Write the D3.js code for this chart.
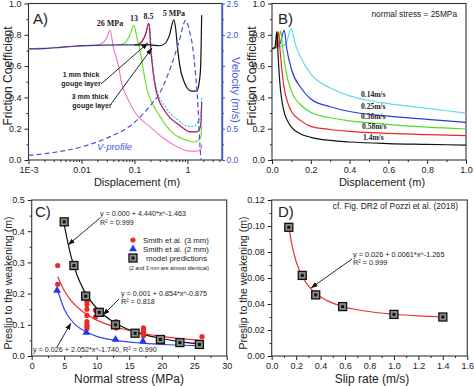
<!DOCTYPE html>
<html>
<head>
<meta charset="utf-8">
<script src="https://cdn.jsdelivr.net/npm/d3@7"></script>
<style>
body { margin: 0; background: #fff; }
text { font-family: Arial, "Liberation Sans", sans-serif; fill: #222; }
.serif { font-family: "Times New Roman", "Liberation Serif", serif; font-weight: bold; }
</style>
</head>
<body>
<svg id="fig" width="474" height="386"></svg>
<script>
// ---- panel A: friction vs displacement (log x), velocity profile on right axis
const baseA = [[0.001,0.71],[0.002,0.712],[0.004,0.72],[0.007,0.727],[0.012,0.731],[0.025,0.734],[0.05,0.735],[0.1,0.735]];
const curve26 = [[0.001,0.71],[0.004,0.72],[0.01,0.729],[0.018,0.733],[0.024,0.745],[0.03,0.78],[0.0345,0.83],[0.04,0.72],[0.05,0.6],[0.0575,0.49],[0.075,0.39],[0.1,0.31],[0.2,0.21],[0.35,0.14],[0.6,0.09],[1.0,0.058],[1.4,0.055],[1.7,0.062],[1.84,0.075],[1.86,0.1]];
const curve13 = [[0.05,0.735],[0.065,0.745],[0.08,0.79],[0.098,0.86],[0.11,0.79],[0.127,0.70],[0.15,0.56],[0.17,0.46],[0.22,0.36],[0.3,0.28],[0.5,0.18],[0.75,0.14],[1.0,0.125],[1.3,0.115],[1.6,0.125],[1.8,0.15],[1.86,0.22]];
const curve85 = [[0.1,0.735],[0.12,0.74],[0.14,0.76],[0.165,0.81],[0.185,0.873],[0.195,0.82],[0.2,0.745],[0.219,0.6],[0.262,0.43],[0.4,0.30],[0.72,0.22],[1.13,0.18],[1.49,0.18],[1.7,0.2],[1.8,0.235],[1.86,0.37]];
const curve85b = [[0.1,0.735],[0.13,0.75],[0.16,0.8],[0.19,0.87],[0.2,0.8],[0.215,0.65],[0.26,0.46],[0.4,0.33],[0.7,0.25],[1.0,0.215],[1.3,0.215],[1.6,0.25],[1.8,0.3],[1.86,0.4]];
const curve5 = [[0.1,0.735],[0.2,0.735],[0.3,0.73],[0.38,0.745],[0.45,0.79],[0.556,0.895],[0.6,0.84],[0.65,0.72],[0.72,0.6],[0.89,0.49],[1.05,0.45],[1.21,0.44],[1.49,0.44],[1.66,0.49],[1.78,0.6],[1.82,0.745],[1.86,0.925]];
const vProfile = [[0.001,0.075],[0.003,0.12],[0.01,0.21],[0.03,0.35],[0.1,0.6],[0.2,0.87],[0.3,1.07],[0.54,1.6],[0.7,1.9],[0.93,2.23],[1.1,2.05],[1.28,1.76],[1.45,1.3],[1.56,0.96],[1.7,0.32],[1.8,0.0]];
const xTicksA = [0.001, 0.01, 0.1, 1];
const xLabelsA = ['1E-3', '0.01', '0.1', '1'];
const vTicksA = [0, 0.5, 1.0, 1.5, 2.0, 2.5];
const vLabelsA = ['0.0', '0.5', '', '', '2.0', '2.5'];
const peakLabelsA = [['26 MPa',0.0345,0.83],['13',0.098,0.86],['8.5',0.185,0.873],['5 MPa',0.556,0.895]];

// ---- panel B: normal stress = 25 MPa, different slip rates
const rateLabelsB = ['0.14m/s','0.25m/s','0.36m/s','0.58m/s','1.4m/s'];
const rateColorsB = ['#5fdce8','#2a3be0','#4fe024','#ee2424','#111111'];
const curve014 = [[0,0.71],[0.03,0.72],[0.07,0.74],[0.1,0.84],[0.12,0.74],[0.15,0.65],[0.2,0.55],[0.3,0.46],[0.4,0.41],[0.5,0.38],[0.6,0.36],[0.8,0.33],[1.0,0.30]];
const curve025 = [[0,0.71],[0.04,0.74],[0.063,0.83],[0.075,0.72],[0.1,0.58],[0.15,0.46],[0.2,0.39],[0.3,0.34],[0.4,0.31],[0.6,0.28],[0.8,0.26],[1.0,0.24]];
const curve036 = [[0,0.71],[0.03,0.73],[0.045,0.825],[0.055,0.72],[0.07,0.58],[0.1,0.44],[0.15,0.35],[0.2,0.305],[0.3,0.27],[0.4,0.25],[0.6,0.228],[0.8,0.21],[1.0,0.198]];
const curve058 = [[0,0.71],[0.02,0.72],[0.032,0.82],[0.04,0.72],[0.06,0.48],[0.08,0.37],[0.1,0.31],[0.15,0.25],[0.2,0.215],[0.3,0.195],[0.4,0.183],[0.6,0.17],[0.8,0.162],[1.0,0.156]];
const curve14 = [[0,0.71],[0.015,0.72],[0.025,0.82],[0.03,0.7],[0.04,0.5],[0.06,0.32],[0.08,0.25],[0.1,0.21],[0.15,0.165],[0.2,0.145],[0.3,0.125],[0.4,0.115],[0.6,0.105],[0.8,0.1],[1.0,0.095]];
const labelYB = [0.40, 0.325, 0.265, 0.2, 0.13];

// ---- panel C: preslip vs normal stress
const smith3x = [4,4,8.5,8.5,8.5,8.5,8.5,8.5,8.5,8.5,8.5,9.8,9.8,13,13,13,16,16,17.2,17.2,17.2,17.2,17.2,17.2,26.2];
const smith3y = [0.29,0.23,0.185,0.175,0.165,0.15,0.13,0.11,0.10,0.095,0.088,0.147,0.125,0.11,0.095,0.09,0.073,0.068,0.09,0.085,0.08,0.075,0.07,0.065,0.062];
const smith2x = [3.9,8.4,12.9,17.1,25.8];
const smith2y = [0.21,0.075,0.053,0.047,0.03];
const modelCx = [5,6.5,8.3,10.4,12.9,15.9,19.8,22.8,25.8];
const modelCy = [0.43,0.29,0.192,0.14,0.10,0.073,0.053,0.043,0.037];
const fitBlackC = [[5,0.421],[6,0.323],[7,0.258],[8,0.212],[10,0.153],[12,0.117],[14,0.093],[17,0.070],[20,0.056],[23,0.045],[26,0.038]];
const fitRedC = [[4,0.255],[5,0.210],[6,0.179],[8,0.140],[10,0.115],[13,0.092],[16,0.077],[20,0.063],[26,0.050]];
const fitBlueC = [[4,0.210],[5,0.151],[6,0.117],[7,0.095],[8.5,0.076],[10,0.063],[13,0.050],[17,0.041],[21,0.036],[26,0.033]];

// ---- panel D: preslip vs slip rate
const rateD = [0.14,0.25,0.36,0.58,1.0,1.4];
const preslipD = [0.099,0.062,0.047,0.038,0.032,0.030];
const fitD = [[0.14,0.0994],[0.17,0.0833],[0.2,0.0727],[0.25,0.0612],[0.3,0.054],[0.36,0.0482],[0.45,0.0428],[0.58,0.0381],[0.75,0.0348],[1.0,0.0321],[1.2,0.0308],[1.4,0.030]];

const svg = d3.select('#fig');

const defs = svg.append('defs');
defs.append('marker').attr('id', 'arrow')
  .attr('viewBox', '0 0 8 6').attr('refX', 8).attr('refY', 3)
  .attr('markerWidth', 7).attr('markerHeight', 5).attr('markerUnits', 'userSpaceOnUse')
  .attr('orient', 'auto')
  .append('path').attr('d', 'M0,0 L8,3 L0,6 z').attr('fill', '#111');

function drawAxes(x, y, o) {
  const [x0, x1] = x.range();
  const [y0, y1] = y.range();
  const g = svg.append('g');
  g.append('g').attr('transform', `translate(0,${y0})`)
    .call(d3.axisBottom(x).tickValues(o.xMinor).tickSize(2).tickFormat('').tickSizeOuter(0));
  g.append('g').attr('transform', `translate(0,${y0})`)
    .call(d3.axisBottom(x).tickValues(o.xTicks).tickSize(4).tickFormat(o.xFmt).tickSizeOuter(0));
  g.append('g').attr('transform', `translate(${x0},0)`)
    .call(d3.axisLeft(y).tickValues(o.yMinor).tickSize(2).tickFormat('').tickSizeOuter(0));
  g.append('g').attr('transform', `translate(${x0},0)`)
    .call(d3.axisLeft(y).tickValues(o.yTicks).tickSize(4).tickFormat(o.yFmt).tickSizeOuter(0));
  g.selectAll('.domain').remove();
  g.selectAll('line').attr('stroke', '#222');
  g.selectAll('text').attr('font-size', 9).style('fill', '#222');
  g.append('rect').attr('x', x0).attr('y', y1).attr('width', x1 - x0).attr('height', y0 - y1)
    .attr('fill', 'none').attr('stroke', '#333').attr('stroke-width', 1.1);
  return g;
}

function lineOf(x, y) {
  return d3.line().x(d => x(d[0])).y(d => y(d[1])).curve(d3.curveMonotoneX);
}

function drawCurve(x, y, data, color, dash, w) {
  svg.append('path').datum(data).attr('d', lineOf(x, y))
    .attr('fill', 'none').attr('stroke', color).attr('stroke-width', w || 1.2)
    .attr('stroke-dasharray', dash || null);
}

function label(txt, x, y, size, opt) {
  opt = opt || {};
  const t = svg.append('text').attr('x', x).attr('y', y).attr('font-size', size)
    .attr('text-anchor', opt.anchor || 'start').text(txt);
  if (opt.cls) t.attr('class', opt.cls);
  if (opt.color) t.style('fill', opt.color);
  if (opt.weight) t.attr('font-weight', opt.weight);
  if (opt.italic) t.attr('font-style', 'italic');
  if (opt.rotate) t.attr('transform', `rotate(${opt.rotate},${x},${y})`);
  return t;
}

function arrow(x1, y1, x2, y2) {
  svg.append('line').attr('x1', x1).attr('y1', y1).attr('x2', x2).attr('y2', y2)
    .attr('stroke', '#111').attr('stroke-width', 0.9).attr('marker-end', 'url(#arrow)');
}

function minorLog(lo, hi) {
  const out = [];
  for (let p = lo; p < hi; p++) for (let k = 2; k <= 9; k++) out.push(k * Math.pow(10, p));
  return out;
}

// ================= A =================
const xA = d3.scaleLog().domain([0.001, 4.5]).range([28.5, 222]);
const yA = d3.scaleLinear().domain([0, 1]).range([160, 3.5]);
const vA = d3.scaleLinear().domain([0, 2.5]).range([160, 3.5]);

drawAxes(xA, yA, {
  xTicks: xTicksA, xMinor: minorLog(-3, 1).filter(v => v < 4.5), xFmt: (d, i) => xLabelsA[i],
  yTicks: d3.range(0, 1.01, 0.2), yMinor: d3.range(0.1, 1, 0.2), yFmt: d3.format('.1f')
});
const blue = '#4656dc';
const rightAx = svg.append('g').attr('transform', 'translate(222,0)')
  .call(d3.axisRight(vA).tickValues(vTicksA).tickSize(3).tickPadding(1.5)
    .tickFormat((d, i) => vLabelsA[i]).tickSizeOuter(0));
svg.append('g').attr('transform', 'translate(222,0)')
  .call(d3.axisRight(vA).tickValues(d3.range(0.25, 2.5, 0.5)).tickSize(2).tickFormat('').tickSizeOuter(0))
  .call(g => g.selectAll('line').attr('stroke', blue)).call(g => g.select('.domain').remove());
rightAx.select('.domain').attr('stroke', blue).attr('stroke-width', 1.4);
rightAx.selectAll('line').attr('stroke', blue);
rightAx.selectAll('text').attr('font-size', 8.5).style('fill', blue);

drawCurve(xA, yA, curve26, '#f07cc6');
drawCurve(xA, yA, curve13, '#6ee02a');
drawCurve(xA, yA, curve85b, '#3cc8e8', '2,1.5');
drawCurve(xA, yA, curve85, '#b01440');
drawCurve(xA, yA, curve85, '#a040c0', '1.5,2', 0.8);
drawCurve(xA, yA, curve5, '#111');
drawCurve(xA, yA, baseA, '#3a3a8e', null, 1.2);
drawCurve(xA, vA, vProfile, blue, '5,3', 1.2);

peakLabelsA.forEach(p => {
  label(p[0], xA(p[1]), yA(p[2]) - 4, 8, { anchor: 'middle', cls: 'serif' });
});
label('A)', 33, 24, 15);
label('1 mm thick', 81, 77, 7, { anchor: 'middle', weight: 'bold' });
label('gouge layer', 81, 86, 7, { anchor: 'middle', weight: 'bold' });
label('3 mm thick', 90, 99, 7, { anchor: 'middle', weight: 'bold' });
label('gouge layer', 92, 108, 7, { anchor: 'middle', weight: 'bold' });
arrow(101, 84, 148, 43);
arrow(111, 104, 152, 48);
label('V-profile', 97, 150, 9.5, { italic: true, color: blue });
label('Displacement (m)', 137, 186, 11, { anchor: 'middle' });
label('Friction Coefficient', 12, 76, 12, { anchor: 'middle', rotate: -90 });
label('Velocity (m/s)', 232, 90, 11, { anchor: 'middle', rotate: 90, color: blue });

// ================= B =================
const xB = d3.scaleLinear().domain([0, 1]).range([272, 466]);
const yB = d3.scaleLinear().domain([0, 1]).range([160, 3.5]);
drawAxes(xB, yB, {
  xTicks: d3.range(0, 1.01, 0.2), xMinor: d3.range(0.1, 1, 0.2), xFmt: d3.format('.1f'),
  yTicks: d3.range(0, 1.01, 0.2), yMinor: d3.range(0.1, 1, 0.2), yFmt: d3.format('.1f')
});
[curve014, curve025, curve036, curve058, curve14].forEach((c, i) => drawCurve(xB, yB, c, rateColorsB[i]));
rateLabelsB.forEach((t, i) => label(t, 361 + (i > 2 ? i - 2 : 0), yB(labelYB[i]), 7.5, { cls: 'serif' }));
label('B)', 278, 24, 15);
label('normal stress = 25MPa', 457, 17, 8.3, { anchor: 'end' });
label('Displacement (m)', 382, 186, 11, { anchor: 'middle' });
label('Friction Coefficient', 256, 76, 12, { anchor: 'middle', rotate: -90 });

// ================= C =================
const xC = d3.scaleLinear().domain([0, 30]).range([31.7, 226.7]);
const yC = d3.scaleLinear().domain([0, 0.5]).range([356, 200]);
drawAxes(xC, yC, {
  xTicks: d3.range(0, 31, 5), xMinor: d3.range(2.5, 30, 5), xFmt: d3.format('d'),
  yTicks: d3.range(0, 0.51, 0.1), yMinor: d3.range(0.05, 0.5, 0.1), yFmt: d3.format('.1f')
});
drawCurve(xC, yC, fitRedC, '#ee3030');
drawCurve(xC, yC, fitBlueC, '#3344ee');
drawCurve(xC, yC, fitBlackC, '#111');

function squareMarks(x, y, xs, ys) {
  const g = svg.append('g').selectAll('g').data(xs).join('g')
    .attr('transform', (d, i) => `translate(${x(d)},${y(ys[i])})`);
  g.append('rect').attr('x', -4).attr('y', -4).attr('width', 8).attr('height', 8)
    .attr('fill', '#8a8a8a').attr('stroke', '#111').attr('stroke-width', 1.3);
  g.append('rect').attr('x', -1.5).attr('y', -1.5).attr('width', 3).attr('height', 3).attr('fill', '#111');
}
svg.append('g').selectAll('circle').data(smith3x).join('circle')
  .attr('cx', d => xC(d)).attr('cy', (d, i) => yC(smith3y[i])).attr('r', 2.6).attr('fill', '#ee2a2a');
const tri = d3.symbol().type(d3.symbolTriangle).size(26);
svg.append('g').selectAll('path').data(smith2x).join('path')
  .attr('transform', (d, i) => `translate(${xC(d)},${yC(smith2y[i])})`).attr('d', tri).attr('fill', '#2336ee');
squareMarks(xC, yC, modelCx, modelCy);

label('C)', 35, 217, 15);
label('y = 0.000 + 4.440*x^-1.463', 100, 216, 7.2);
label('R² = 0.999', 100, 225, 7.2);
arrow(100, 218, 68, 245);
svg.append('circle').attr('cx', 133).attr('cy', 240).attr('r', 2.6).attr('fill', '#ee2a2a');
label('Smith et al. (3 mm)', 143, 243, 7.8);
svg.append('path').attr('transform', 'translate(133,249)').attr('d', tri).attr('fill', '#2336ee');
label('Smith et al. (2 mm)', 143, 252, 7.8);
squareMarks(d3.scaleIdentity(), d3.scaleIdentity(), [133], [258]);
label('model predictions', 146, 261, 7.8);
label('(2 and 3 mm are almost identical)', 129, 270, 5.4);
label('y = 0.001 + 0.854*x^-0.875', 121, 296, 7.2);
label('R² = 0.818', 121, 304, 7.2);
arrow(119, 299, 103, 315);
label('y = 0.026 + 2.052*x^-1.740, R² = 0.990', 33, 352, 7.2);
arrow(57, 347, 71, 323);
label('Normal stress (MPa)', 129, 383, 12, { anchor: 'middle' });
label('Preslip to the weakening (m)', 12, 283, 10.5, { anchor: 'middle', rotate: -90 });

// ================= D =================
const xD = d3.scaleLinear().domain([0, 1.6]).range([271.7, 467.3]);
const yD = d3.scaleLinear().domain([0, 0.12]).range([356, 200]);
drawAxes(xD, yD, {
  xTicks: d3.range(0, 1.61, 0.2), xMinor: d3.range(0.1, 1.6, 0.2), xFmt: d3.format('.1f'),
  yTicks: d3.range(0, 0.121, 0.02), yMinor: d3.range(0.01, 0.12, 0.02), yFmt: d3.format('.2f')
});
drawCurve(xD, yD, fitD, '#ee3030');
squareMarks(xD, yD, rateD, preslipD);
label('D)', 278, 217, 15);
label('cf. Fig. DR2 of Pozzi et al. (2018)', 458, 209, 8.5, { anchor: 'end' });
label('y = 0.026 + 0.0061*x^-1.265', 353, 257, 7.3);
label('R² = 0.999', 353, 265, 7.3);
arrow(352, 259, 311, 288);
label('Slip rate (m/s)', 372, 383, 12, { anchor: 'middle' });
label('Preslip to the weakening (m)', 247, 283, 10.5, { anchor: 'middle', rotate: -90 });
</script>
</body>
</html>
